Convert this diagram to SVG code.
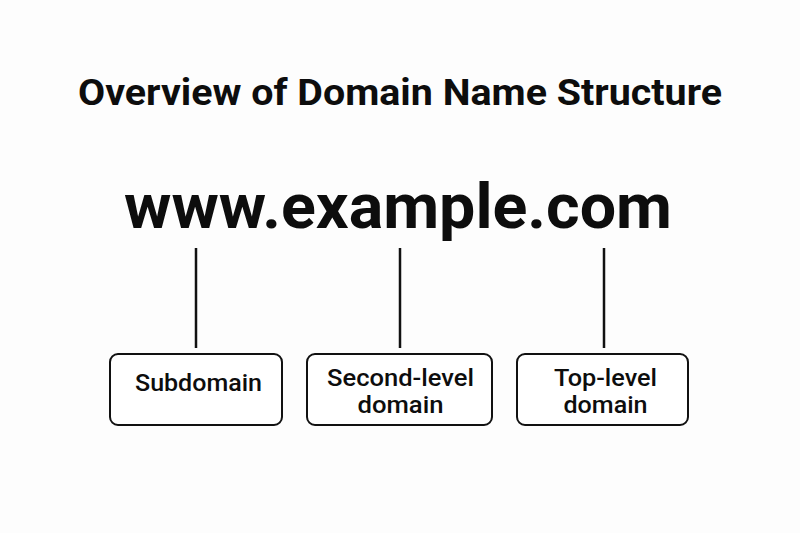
<svg xmlns="http://www.w3.org/2000/svg" width="800" height="533" viewBox="0 0 800 533">
<style>
text{font-family:Roboto,"Liberation Sans",sans-serif;fill:#0d0d0d;text-anchor:middle}
.title{font-size:36px;font-weight:bold}
.url{font-size:63px;font-weight:bold}
.lbl{font-size:23px;font-weight:500}
.box{fill:#fff;stroke:#111;stroke-width:2}
.conn line{stroke:#111;stroke-width:2.5}
</style>
<rect width="800" height="533" fill="#fdfdfd"/>
<text class="title" x="400" y="105" textLength="644" lengthAdjust="spacingAndGlyphs">Overview of Domain Name Structure</text>
<text class="url" x="398" y="228" textLength="548" lengthAdjust="spacingAndGlyphs">www.example.com</text>
<g class="conn" id="connectors">
<line x1="196" y1="248" x2="196" y2="348"/>
<line x1="400" y1="248" x2="400" y2="348"/>
<line x1="604" y1="248" x2="604" y2="348"/>
</g>
<g id="subdomain">
<rect class="box" x="110" y="354" width="172" height="71" rx="8"/>
<text class="lbl" x="198.5" y="391" textLength="127" lengthAdjust="spacingAndGlyphs">Subdomain</text>
</g>
<g id="second-level">
<rect class="box" x="307" y="354" width="185" height="71" rx="8"/>
<text class="lbl" x="400.5" y="386" textLength="147" lengthAdjust="spacingAndGlyphs">Second-level</text>
<text class="lbl" x="400.5" y="413" textLength="86" lengthAdjust="spacingAndGlyphs">domain</text>
</g>
<g id="top-level">
<rect class="box" x="517" y="354" width="171" height="71" rx="8"/>
<text class="lbl" x="605.5" y="386" textLength="103" lengthAdjust="spacingAndGlyphs">Top-level</text>
<text class="lbl" x="605.5" y="413" textLength="84" lengthAdjust="spacingAndGlyphs">domain</text>
</g>
</svg>
